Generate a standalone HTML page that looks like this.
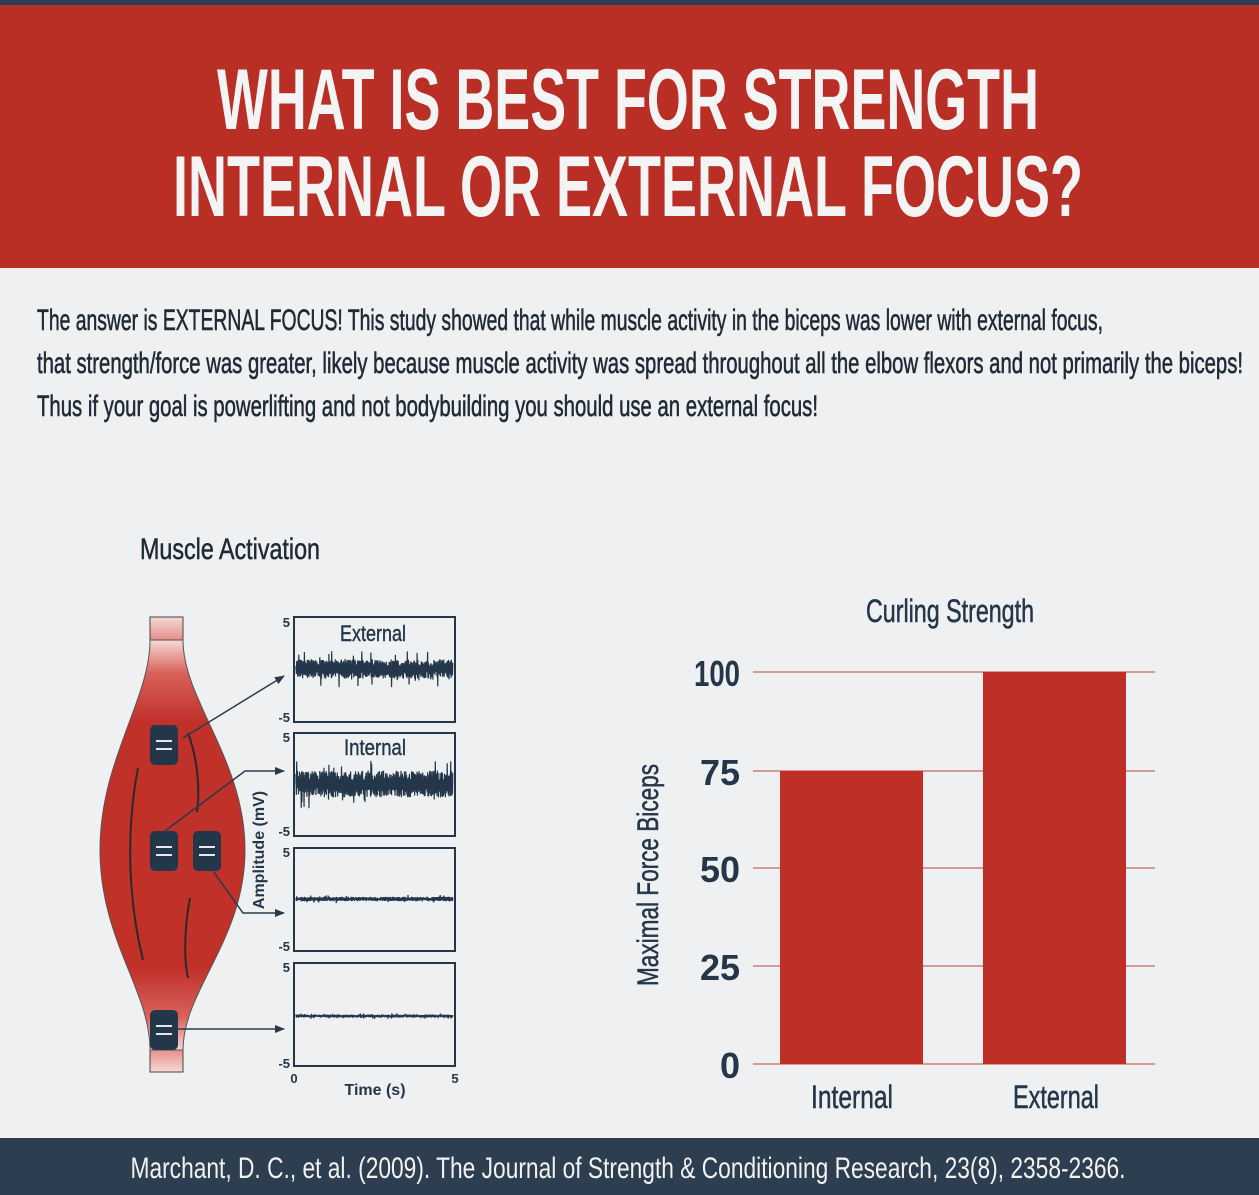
<!DOCTYPE html>
<html><head><meta charset="utf-8"><style>
html,body{margin:0;padding:0;background:#eef0f1;}
svg{display:block;}
text{font-family:"Liberation Sans Narrow","Liberation Sans",sans-serif;}
</style></head><body>
<svg id="s" width="1259" height="1195" viewBox="0 0 1259 1195" xmlns="http://www.w3.org/2000/svg">
<defs>
<linearGradient id="mg" x1="0" y1="0" x2="0" y2="1">
<stop offset="0" stop-color="#f6d9d6"/><stop offset="0.08" stop-color="#d9625a"/><stop offset="0.2" stop-color="#c0312a"/><stop offset="0.8" stop-color="#c0312a"/><stop offset="0.92" stop-color="#d9625a"/><stop offset="1" stop-color="#f6d9d6"/>
</linearGradient>
<marker id="ar" markerWidth="10" markerHeight="8" refX="9" refY="4" orient="auto" markerUnits="userSpaceOnUse"><path d="M0,0 L10,4 L0,8 Z" fill="#2a3a4c"/></marker>
</defs>
<rect width="1259" height="1195" fill="#eef0f1"/>
<rect width="1259" height="268" fill="#b92e25"/>
<rect width="1259" height="5" fill="#2c3e50"/>
<text x="628" y="129" text-anchor="middle" font-size="86" font-weight="bold" fill="#f4f4f4" textLength="822" lengthAdjust="spacingAndGlyphs">WHAT IS BEST FOR STRENGTH</text>
<text x="628" y="216" text-anchor="middle" font-size="86" font-weight="bold" fill="#f4f4f4" textLength="910" lengthAdjust="spacingAndGlyphs">INTERNAL OR EXTERNAL FOCUS?</text>
<g fill="#1f2a36" font-size="30" stroke="#1f2a36" stroke-width="0.6">
<text x="37" y="330" textLength="1066" lengthAdjust="spacingAndGlyphs">The answer is EXTERNAL FOCUS! This study showed that while muscle activity in the biceps was lower with external focus,</text>
<text x="37" y="373" textLength="1206" lengthAdjust="spacingAndGlyphs">that strength/force was greater, likely because muscle activity was spread throughout all the elbow flexors and not primarily the biceps!</text>
<text x="37" y="416" textLength="781" lengthAdjust="spacingAndGlyphs">Thus if your goal is powerlifting and not bodybuilding you should use an external focus!</text>
</g>
<text x="140" y="559" font-size="30" fill="#1f2a36" stroke="#1f2a36" stroke-width="0.5" textLength="180" lengthAdjust="spacingAndGlyphs">Muscle Activation</text>
<rect x="150" y="617" width="33" height="455" fill="url(#mg)" stroke="#444" stroke-width="1"/>
<path d="M150,640 C150,700 100,760 100,850 C100,940 150,990 150,1050 L183,1050 C183,990 245,940 245,850 C245,760 183,700 183,640 Z" fill="url(#mg)" stroke="#555" stroke-width="1"/>
<path d="M138,768 C126,830 128,900 143,960" stroke="#2a2a2a" stroke-width="2" fill="none"/>
<path d="M188,733 C198,760 200,790 197,812" stroke="#2a2a2a" stroke-width="2" fill="none"/>
<path d="M190,898 C184,930 184,960 188,978" stroke="#2a2a2a" stroke-width="2" fill="none"/>
<g fill="#24364a">
<rect x="150" y="725" width="28" height="40" rx="5"/>
<rect x="150" y="831" width="28" height="40" rx="5"/>
<rect x="193" y="831" width="28" height="40" rx="5"/>
<rect x="150" y="1010" width="28" height="40" rx="5"/>
</g>
<g stroke="#e8e8e8" stroke-width="2">
<line x1="156" y1="741" x2="172" y2="741"/><line x1="156" y1="749" x2="172" y2="749"/>
<line x1="156" y1="847" x2="172" y2="847"/><line x1="156" y1="855" x2="172" y2="855"/>
<line x1="199" y1="847" x2="215" y2="847"/><line x1="199" y1="855" x2="215" y2="855"/>
<line x1="156" y1="1026" x2="172" y2="1026"/><line x1="156" y1="1034" x2="172" y2="1034"/>
</g>
<g stroke="#2a3a4c" stroke-width="1.5" fill="none" marker-end="url(#ar)">
<path d="M183,738 L284,676"/>
<path d="M165,831 L245,771 L284,771"/>
<path d="M213,871 L243,913 L284,913"/>
<path d="M178,1029 L284,1029"/>
</g>
<g fill="none" stroke="#24364a" stroke-width="2">
<rect x="294" y="617" width="161" height="105"/>
<rect x="294" y="733" width="161" height="103"/>
<rect x="294" y="848" width="161" height="103"/>
<rect x="294" y="963" width="161" height="103"/>
</g>
<g id="emg" stroke="#24364a" stroke-width="1.2" fill="none"></g>
<g font-size="13" font-weight="bold" fill="#24364a" text-anchor="end">
<text x="290" y="627">5</text><text x="290" y="722">-5</text>
<text x="290" y="742">5</text><text x="290" y="836">-5</text>
<text x="290" y="857">5</text><text x="290" y="951">-5</text>
<text x="290" y="972">5</text><text x="290" y="1068">-5</text>
</g>
<text x="294" y="1083" font-size="13" font-weight="bold" fill="#24364a" text-anchor="middle">0</text>
<text x="455" y="1083" font-size="13" font-weight="bold" fill="#24364a" text-anchor="middle">5</text>
<text x="375" y="1095" font-size="16" font-weight="bold" fill="#24364a" text-anchor="middle">Time (s)</text>
<text transform="translate(264,850) rotate(-90)" font-size="16" font-weight="bold" fill="#24364a" text-anchor="middle">Amplitude (mV)</text>
<text x="373" y="641" font-size="22" fill="#24364a" stroke="#24364a" stroke-width="0.4" text-anchor="middle" textLength="66" lengthAdjust="spacingAndGlyphs">External</text>
<text x="375" y="755" font-size="22" fill="#24364a" stroke="#24364a" stroke-width="0.4" text-anchor="middle" textLength="62" lengthAdjust="spacingAndGlyphs">Internal</text>
<text x="950" y="622" font-size="32" fill="#24364a" stroke="#24364a" stroke-width="0.5" text-anchor="middle" textLength="168" lengthAdjust="spacingAndGlyphs">Curling Strength</text>
<g stroke="#d99a94" stroke-width="2">
<line x1="753" y1="672" x2="1155" y2="672"/>
<line x1="753" y1="771" x2="1155" y2="771"/>
<line x1="753" y1="868" x2="1155" y2="868"/>
<line x1="753" y1="966" x2="1155" y2="966"/>
<line x1="753" y1="1064" x2="1155" y2="1064"/>
</g>
<rect x="780" y="771" width="143" height="293" fill="#bd2f27"/>
<rect x="983" y="672" width="143" height="392" fill="#bd2f27"/>
<g font-size="36" font-weight="bold" fill="#24364a" text-anchor="end">
<text x="740" y="686" textLength="46" lengthAdjust="spacingAndGlyphs">100</text>
<text x="740" y="785">75</text>
<text x="740" y="882">50</text>
<text x="740" y="980">25</text>
<text x="740" y="1078">0</text>
</g>
<text transform="translate(658,875) rotate(-90)" font-size="30" fill="#24364a" stroke="#24364a" stroke-width="0.5" text-anchor="middle" textLength="222" lengthAdjust="spacingAndGlyphs">Maximal Force Biceps</text>
<text x="852" y="1108" font-size="32" fill="#24364a" stroke="#24364a" stroke-width="0.5" text-anchor="middle" textLength="82" lengthAdjust="spacingAndGlyphs">Internal</text>
<text x="1056" y="1108" font-size="32" fill="#24364a" stroke="#24364a" stroke-width="0.5" text-anchor="middle" textLength="86" lengthAdjust="spacingAndGlyphs">External</text>
<rect x="0" y="1138" width="1259" height="57" fill="#2c3e50"/>
<text x="628" y="1178" font-size="30" fill="#f2f2f2" text-anchor="middle" textLength="995" lengthAdjust="spacingAndGlyphs">Marchant, D. C., et al. (2009). The Journal of Strength &amp; Conditioning Research, 23(8), 2358-2366.</text>
</svg>
<script>
(function(){
var g=document.getElementById('emg');var seed=7;
function r(){seed=(seed*16807)%2147483647;return seed/2147483647;}
var P=[[669,26],[784,36],[899,6],[1016,4]];
P.forEach(function(p){var d='M296,'+p[0];var s=1;for(var x=296;x<453;x+=0.35){s=-s;var a=p[1]*(0.3+0.7*r())*(r()<0.08?1.4:0.75);d+=' L'+x.toFixed(2)+','+(p[0]+s*a*0.5).toFixed(1);}
var e=document.createElementNS('http://www.w3.org/2000/svg','path');e.setAttribute('d',d);g.appendChild(e);});
})();
</script>
</body></html>
